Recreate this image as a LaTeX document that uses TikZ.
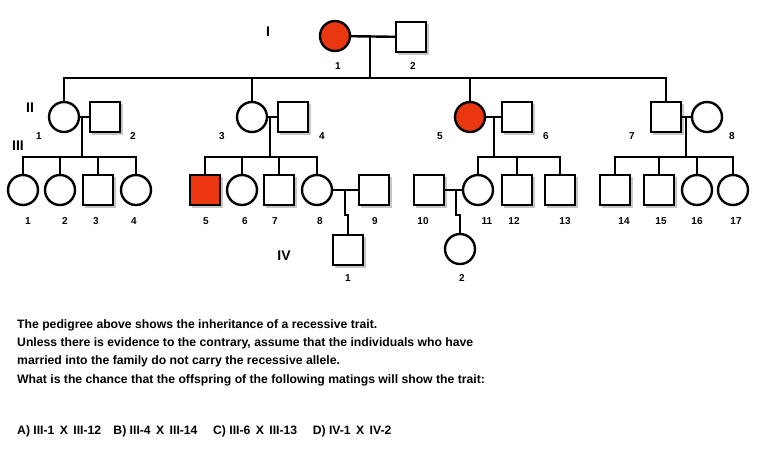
\documentclass[tikz,border=0pt]{standalone}
\usepackage{fontspec}
\setmainfont{Liberation Sans}
\usetikzlibrary{positioning,calc}
\def\females{{(64,117)/b1}, {(252,117)/b3}, {(707,117)/b8}, {(23,190)/c1}, {(60,190)/c2}, {(136,190)/c4}, {(242,190)/c6}, {(317,190)/c8}, {(478,190)/c11}, {(697,190)/c16}, {(733,190)/c17}, {(460,249)/d2}}
\def\males{{(411,37)/a2}, {(105,117)/b2}, {(293,117)/b4}, {(517,117)/b6}, {(666,117)/b7}, {(98,190)/c3}, {(279,190)/c7}, {(374,190)/c9}, {(429,190)/c10}, {(517,190)/c12}, {(560,190)/c13}, {(615,190)/c14}, {(659,190)/c15}, {(348,250)/d1}}
\def\illFemales{{(335,36)/a1}, {(470,117)/b5}}
\def\illMales{{(205,190)/c5}}
\def\numbers{{(338,66)/1}, {(413,66)/2}, {(39,136)/1}, {(133,136)/2}, {(222,136)/3}, {(322,136)/4}, {(440,136)/5}, {(546,136)/6}, {(632,136)/7}, {(732,136)/8}, {(28,221)/1}, {(65,221)/2}, {(96,221)/3}, {(134,221)/4}, {(206,221)/5}, {(245,221)/6}, {(275,221)/7}, {(320,221)/8}, {(375,221)/9}, {(423,221)/10}, {(487,221)/11}, {(514,221)/12}, {(565,221)/13}, {(624,221)/14}, {(661,221)/15}, {(697,221)/16}, {(736,221)/17}, {(348,278)/1}, {(462,278)/2}}
\def\generations{{(268,32)/I}, {(30,108)/II}, {(18,146)/III}, {(284,256)/IV}}
\def\couples{a1/a2, b1/b2, b3/b4, b5/b6, b7/b8, c8/c9, c10/c11}
% children of each couple: x of the drop, y of the sibship line, children
\def\sibships{{370/78/a1/{b1,b3,b5,b7}}, {82/157/b1/{c1,c2,c3,c4}}, {270/157/b3/{c5,c6,c7,c8}}, {494/157/b5/{c11,c12,c13}}, {686/157/b7/{c14,c15,c16,c17}}, {345/215/c8/{d1}}, {456/215/c11/{d2}}}
\tikzstyle{edge} = [draw, line width=2.4pt, line cap=rect]
\tikzstyle{female} = [circle, draw, line width=2.4pt, fill=white, minimum size=30pt, inner sep=0pt]
\tikzstyle{male} = [rectangle, draw, line width=2.4pt, fill=white, minimum size=30pt, inner sep=0pt]
\tikzstyle{shade} = [fill=gray!45, rectangle, minimum size=31pt, inner sep=0pt, xshift=2.5pt, yshift=-2.5pt]
\tikzstyle{ill} = [fill={rgb,255:red,235;green,55;blue,15}]
\tikzstyle{number} = [font=\bfseries\fontsize{10}{12}\selectfont, inner sep=0pt]
\tikzstyle{gen} = [font=\bfseries\fontsize{14}{16}\selectfont, inner sep=0pt]
\tikzstyle{question} = [font=\bfseries\fontsize{12.2}{14}\selectfont, anchor=west, inner sep=0pt]
\begin{document}
\begin{tikzpicture}[x=1pt, y=-1pt]
  \useasboundingbox (0,0) rectangle (760,459);
  % Shadows of the squares, then the individuals
  \foreach \pos/\name in \males {
    \node[shade] at \pos {};
    }
  \node[shade] at (205,190) {};
  \foreach \pos/\name in \males {
    \node[male] (\name) at \pos {};
    }
  \foreach \pos/\name in \illMales {
    \node[male, ill] (\name) at \pos {};
    }
  \foreach \pos/\name in \females {
    \node[female] (\name) at \pos {};
    }
  \foreach \pos/\name in \illFemales {
    \node[female, ill] (\name) at \pos {};
    }

  % Matings, drops and sibships
  \foreach \wife/\husband in \couples {
    \path[edge] (\wife) -- (\husband);
    }
  \foreach \x/\y/\parent/\kids in \sibships {
    \coordinate (bar) at (\x,\y);
    \path[edge] (\parent -| bar) -- (bar);
    \foreach \kid in \kids {
      \path[edge] (bar) -| (\kid);
      }
    }

  % Numbers and generations
  \foreach \pos/\txt in \numbers {
    \node[number] at \pos {\txt};
    }
  \foreach \pos/\txt in \generations {
    \node[gen] at \pos {\txt};
    }

  % The question
  \node[question] (q1) at (17,325) {The pedigree above shows the inheritance of a recessive trait.};
  \node[question] (q2) at (17,343) {Unless there is evidence to the contrary, assume that the individuals who have};
  \node[question] (q3) at (17,361) {married into the family do not carry the recessive allele.};
  \node[question] (q4) at (17,380) {What is the chance that the offspring of the following matings will show the trait:};
  \node[question] (q5) at (17,431) {A) III-1\, X\, III-12\quad B) III-4\, X\, III-14\quad\ C) III-6\, X\, III-13\quad\ D) IV-1\, X\, IV-2};
\end{tikzpicture}
\end{document}
